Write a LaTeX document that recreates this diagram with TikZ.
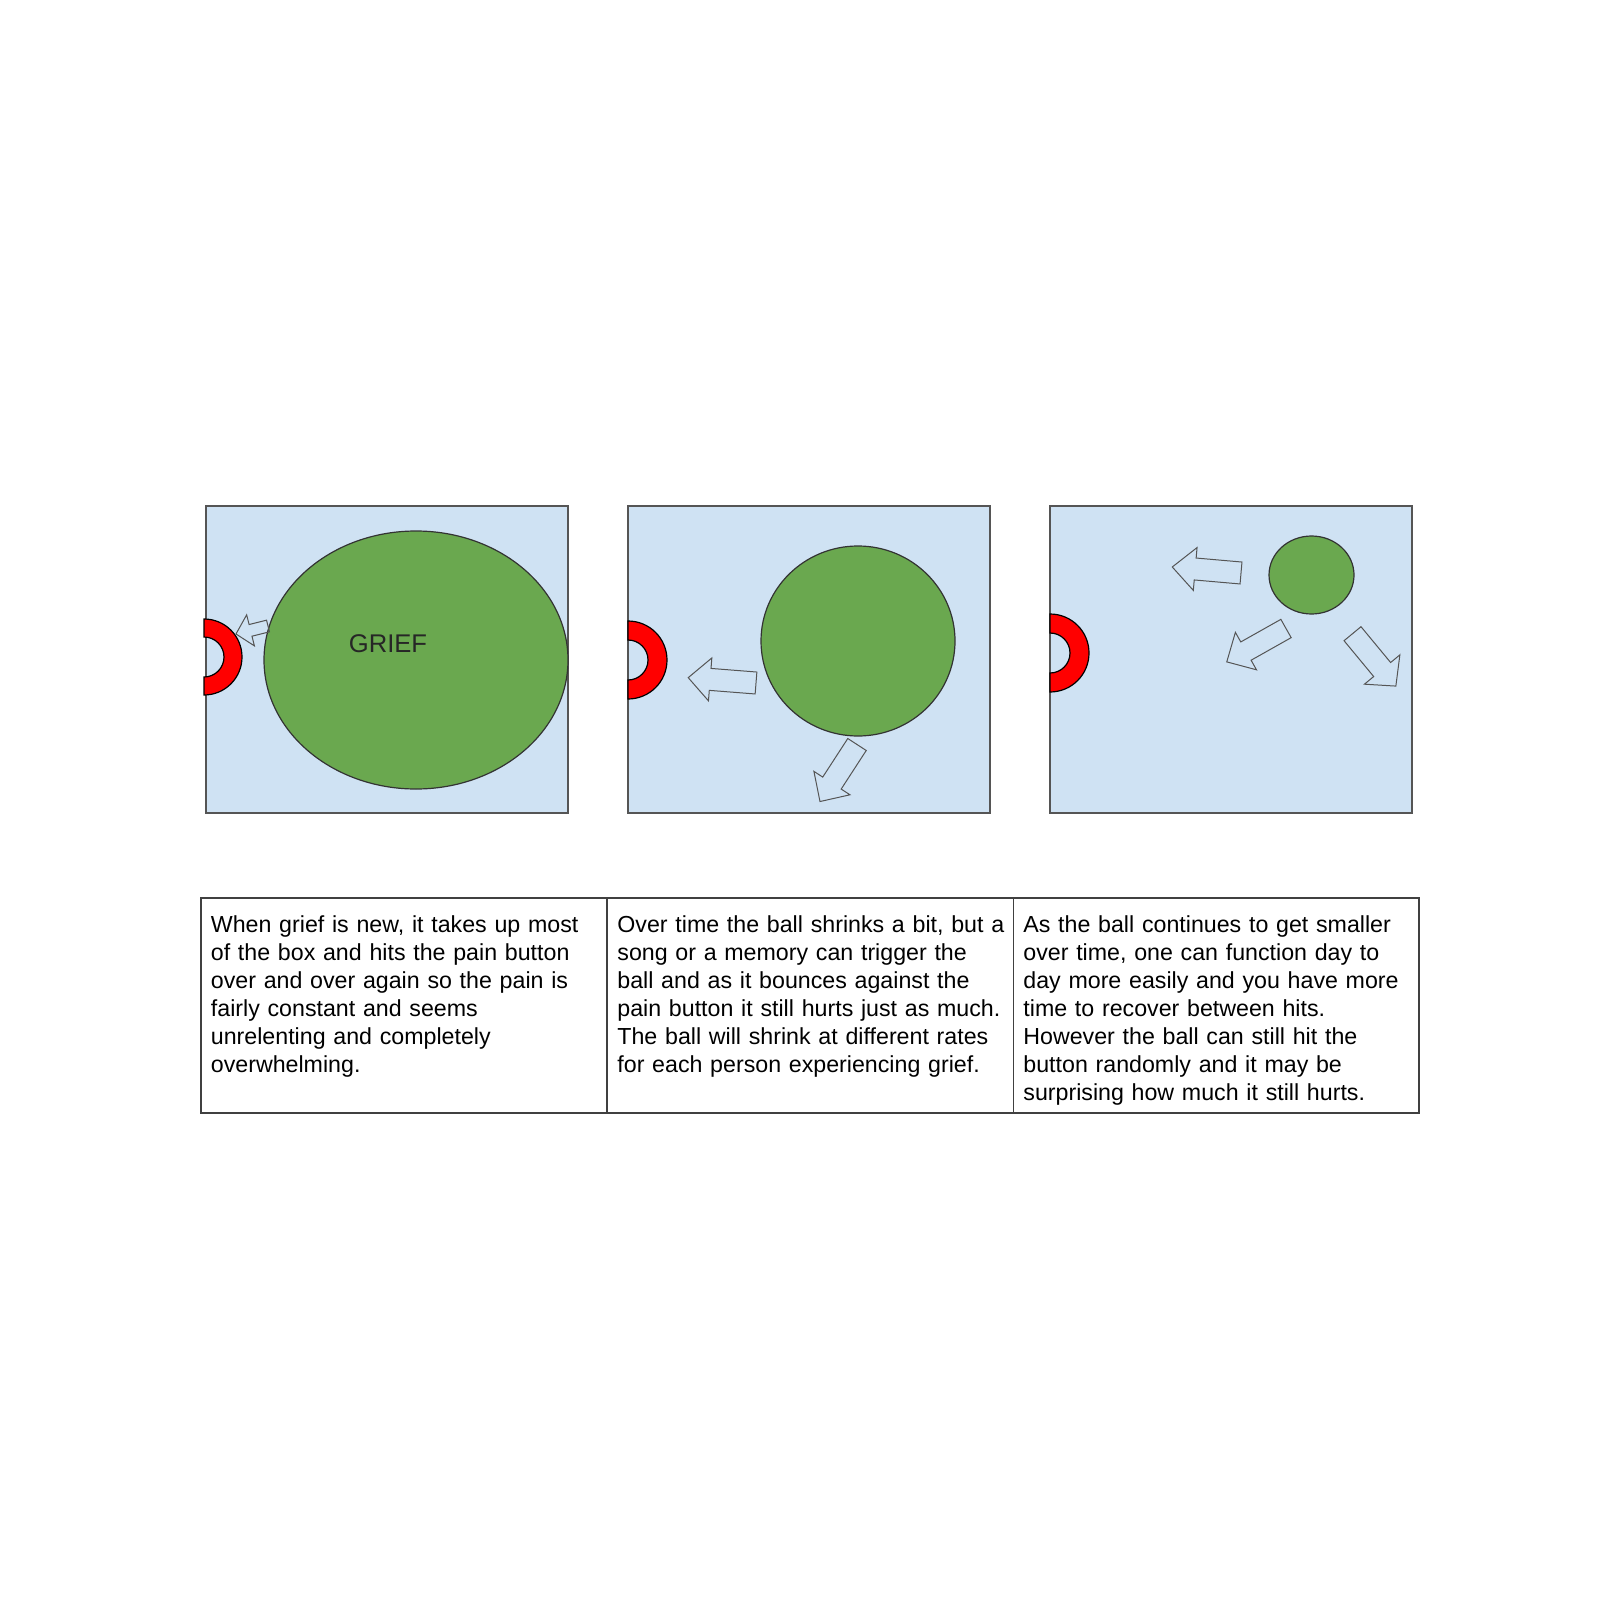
\documentclass[tikz,border=0pt]{standalone}
\usepackage{fontspec}
\setmainfont{Liberation Sans}
\definecolor{boxblue}{HTML}{CFE2F3}
\definecolor{ballgreen}{HTML}{6AA84F}
\definecolor{edgegray}{HTML}{555555}
\newcommand{\griefarrow}[7]{%
\draw[hollowarrow, shift={(#1,#2)}, rotate=#3] (0,-#5) -- ({#4-#7},-#5) -- ({#4-#7},-#6) -- (#4,0) -- ({#4-#7},#6) -- ({#4-#7},#5) -- (0,#5) -- cycle ;}
\begin{document}
\begin{tikzpicture}[x=0.5pt, y=-0.5pt,
  panel/.style={draw=edgegray, line width=0.75pt, fill=boxblue},
  ball/.style={draw=black!80, line width=0.6pt, fill=ballgreen},
  painbutton/.style={draw=black, line width=0.6pt, fill=red},
  hollowarrow/.style={draw=edgegray, line width=0.5pt},
  tableline/.style={draw=black!75, line width=0.6pt},
  cell/.style={anchor=north west, inner sep=0pt, text width=200pt, align=left, font=\fontsize{11.6}{14.0}\selectfont}]
\fill[white] (0,0) rectangle (1620,1620) ;
\useasboundingbox (0,0) rectangle (1620,1620) ;
% first box
\draw[panel] (206,506) rectangle (568,813) ;
\draw[ball] (416,660) ellipse [x radius=152, y radius=129] ;
\node[font=\fontsize{12.8}{15}\selectfont, text=black!85] (grieflabel) at (388,644) {GRIEF} ;
\draw[painbutton] (204,619) arc[start angle=-90, end angle=90, radius=38] -- (204,677) arc[start angle=90, end angle=-90, radius=20] -- cycle ;
\griefarrow{268}{626}{194}{33}{6}{16}{15}
% second box
\draw[panel] (628,506) rectangle (990,813) ;
\draw[ball] (858,641) ellipse [x radius=97, y radius=95] ;
\draw[painbutton] (628,621) arc[start angle=-90, end angle=90, radius=39] -- (628,680) arc[start angle=90, end angle=-90, radius=20] -- cycle ;
\griefarrow{756}{683}{175.5}{68}{11}{21.5}{22}
\griefarrow{857}{744.5}{237}{68}{11}{21.5}{22}
% third box
\draw[panel] (1050,506) rectangle (1412,813) ;
\draw[ball] (1311.5,575) ellipse [x radius=42.5, y radius=39] ;
\draw[painbutton] (1050,614) arc[start angle=-90, end angle=90, radius=39] -- (1050,673) arc[start angle=90, end angle=-90, radius=20] -- cycle ;
\griefarrow{1241}{573}{175}{69}{11}{21.5}{23}
\griefarrow{1286}{628.5}{209.4}{68}{10.5}{21.5}{22}
\griefarrow{1352.5}{633.7}{-50.4}{68}{11}{23}{21.5}
% table
\draw[tableline] (201,898) rectangle (1419,1113) ;
\draw[tableline] (607,898) -- (607,1113) ;
\draw[tableline] (1013.5,898) -- (1013.5,1113) ;
\node[cell] (newgrief) at (210.5,915) {When grief is new, it takes up most\\of the box and hits the pain button\\over and over again so the pain is\\fairly constant and seems\\unrelenting and completely\\overwhelming.} ;
\node[cell] (overtime) at (617,915) {Over time the ball shrinks a bit, but a\\song or a memory can trigger the\\ball and as it bounces against the\\pain button it still hurts just as much.\\The ball will shrink at different rates\\for each person experiencing grief.} ;
\node[cell] (smaller) at (1023,915) {As the ball continues to get smaller\\over time, one can function day to\\day more easily and you have more\\time to recover between hits.\\However the ball can still hit the\\button randomly and it may be\\surprising how much it still hurts.} ;
\end{tikzpicture}
\end{document}
